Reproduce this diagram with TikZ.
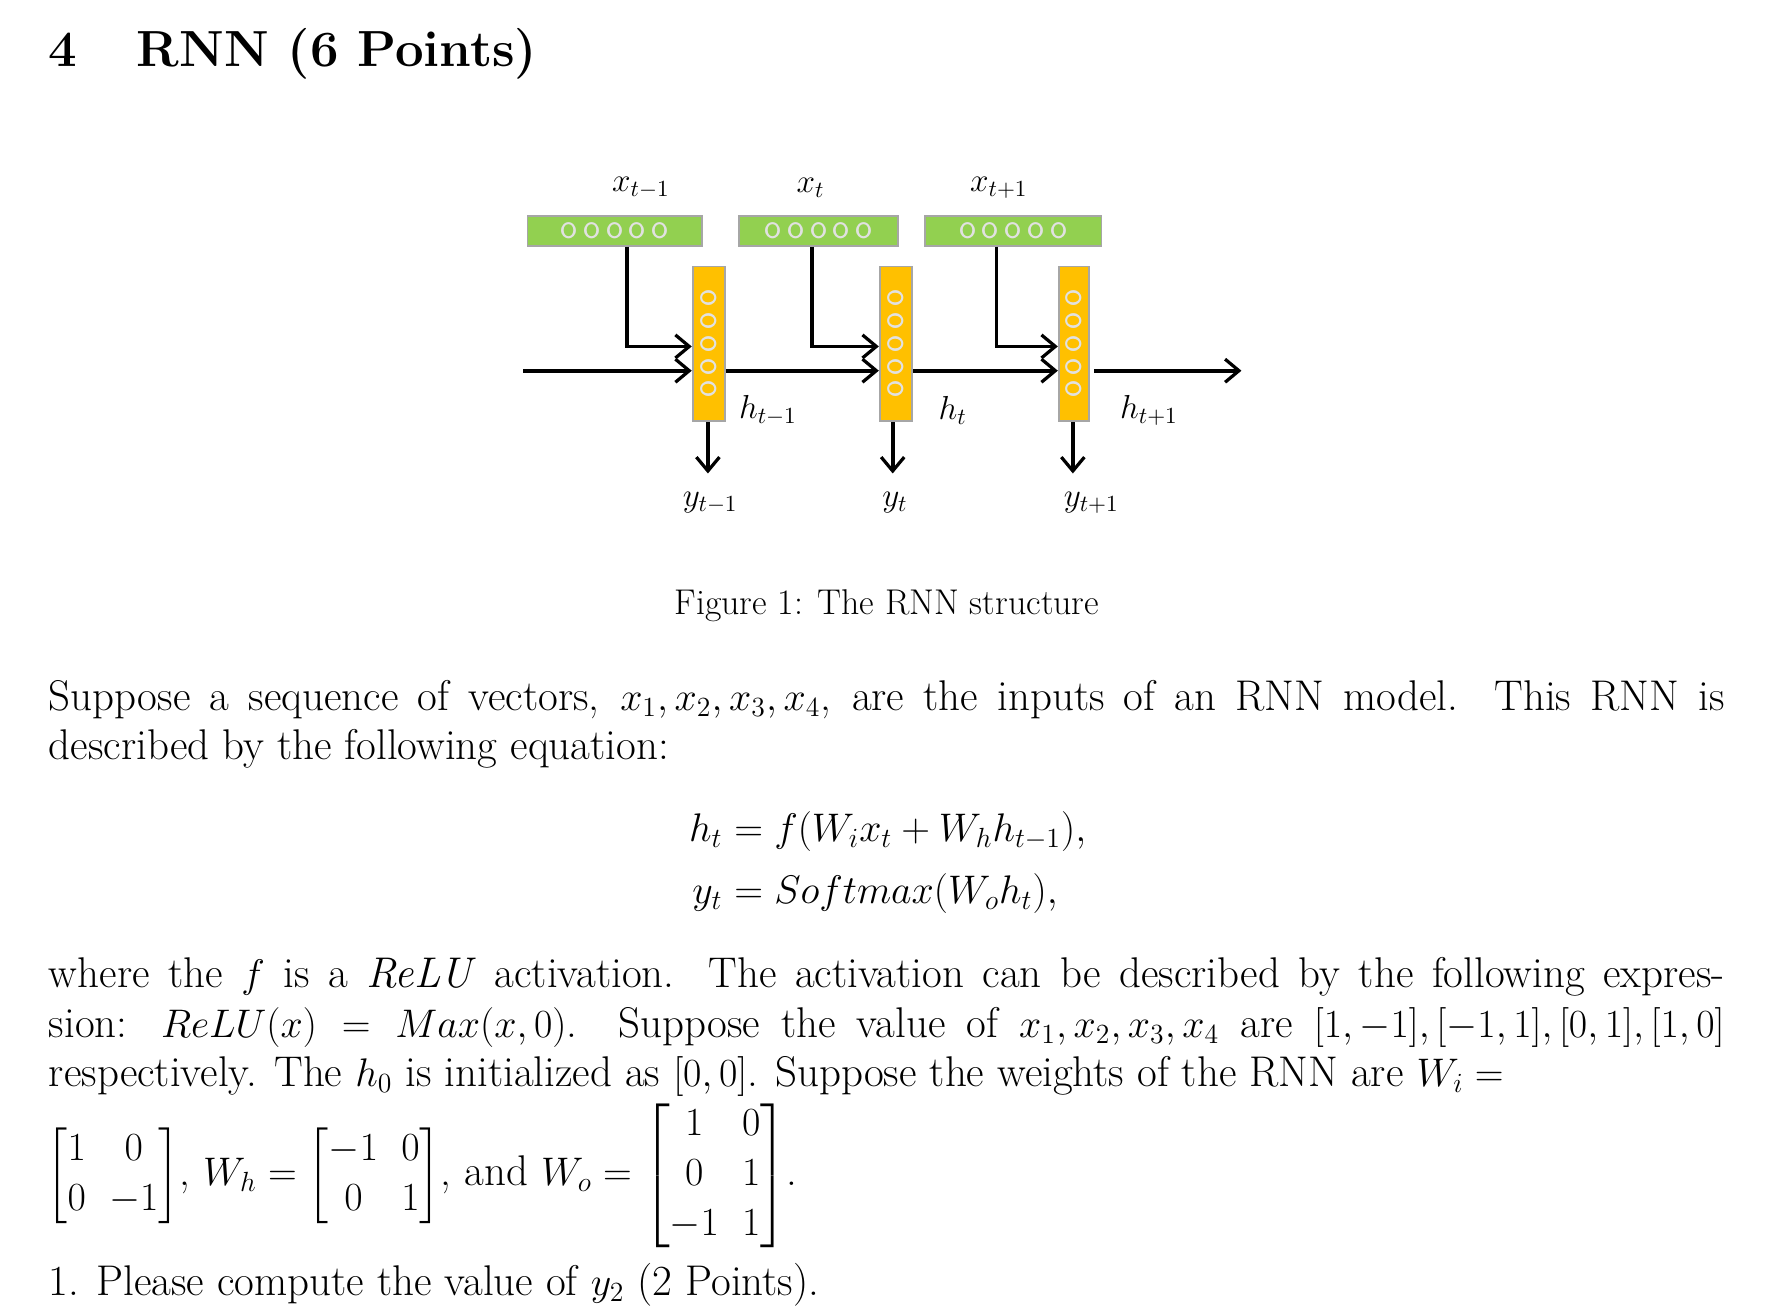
\documentclass[tikz,border=0pt]{standalone}
\usepackage{amsmath}
\usetikzlibrary{arrows.meta}
\definecolor{gbox}{RGB}{146,208,80}
\definecolor{obox}{RGB}{255,192,0}
\definecolor{ltxt}{RGB}{225,225,225}
\tikzset{
 inbox/.style={draw=gray!70,fill=gbox,line width=0.8pt,inner sep=0pt},
 hbox/.style={draw=gray!70,fill=obox,line width=0.8pt,inner sep=0pt},
 conn/.style={line width=1.6pt,-{Straight Barb[length=6pt,width=10pt,line width=1.4pt]}},
 lab/.style={font=\fontsize{14}{16}\selectfont},
 body/.style={anchor=base west,inner sep=0pt,font=\fontsize{18.6}{21.5}\selectfont}
}
\begin{document}
\begin{tikzpicture}[x=0.5pt,y=-0.5pt]
\useasboundingbox (0,0) rectangle (1550,1133);
\node[anchor=base west,inner sep=0pt,font=\fontsize{22}{24}\selectfont\bfseries] (t1) at (42,58) {4};
\node[anchor=base west,inner sep=0pt,font=\fontsize{22}{24}\selectfont\bfseries] (t2) at (118,58) {RNN (6 Points)};
% inputs
\foreach \n/\a/\b/\c in {1/456/607/543,2/639/777/703,3/800/953/863}{
 \node[inbox,minimum width={(\b-\a)*0.5pt},minimum height=13pt,anchor=north west,
   font=\fontsize{15}{15}\sffamily\selectfont\color{ltxt}] (x\n) at (\a,186) {o\,o\,o\,o\,o};
}
\foreach \n/\a/\b in {1/599/627,2/761/789,3/916/942}{
 \node[hbox,minimum width={(\b-\a)*0.5pt},minimum height=67pt,anchor=north west] (h\n) at (\a,230) {};
 \node[rotate=90,font=\fontsize{15}{15}\sffamily\selectfont\color{ltxt}] at (h\n.center) {o\,o\,o\,o\,o};
}
\coordinate (c1) at (543,300); \coordinate (c2) at (703,300); \coordinate (c3) at (863,300);
\draw[conn] (x1.south -| c1) |- (h1.west |- c1);
\draw[conn] (x2.south -| c2) |- (h2.west |- c2);
\draw[conn] (x3.south -| c3) |- (h3.west |- c3);
\coordinate (s) at (453,321); \coordinate (e) at (1075,321);
\draw[conn] (s) -- (h1.west |- s);
\draw[conn] (h1.east |- s) -- (h2.west |- s);
\draw[conn] (h2.east |- s) -- (h3.west |- s);
\draw[conn] ([xshift=2pt]h3.east |- s) -- (e);
\foreach \n/\x in {1/613,2/773,3/929}{
 \coordinate (d\n) at (\x,410);
 \draw[conn] (h\n.south -| d\n) -- (d\n);
}
\node[lab] (lx1) at (555,163) {$x_{t-1}$};
\node[lab] (lx2) at (702,163) {$x_t$};
\node[lab] (lx3) at (865,163) {$x_{t+1}$};
\node[lab] (lh1) at (665,355) {$h_{t-1}$};
\node[lab] (lh2) at (825,355) {$h_t$};
\node[lab] (lh3) at (995,355) {$h_{t+1}$};
\node[lab] (ly1) at (615,435) {$y_{t-1}$};
\node[lab] (ly2) at (775,435) {$y_t$};
\node[lab] (ly3) at (945,435) {$y_{t+1}$};
\node[anchor=base,inner sep=0pt,font=\fontsize{15.5}{16}\selectfont] (cap) at (768,532) {Figure 1: The RNN structure};
% text
\node[body,text width=725.5pt,align=justify] (p1) at (42,615) {Suppose a sequence of vectors, $x_1,x_2,x_3,x_4$, are the inputs of an RNN model. This RNN is\linebreak described by the following equation:};
\node[body,anchor=base east] (e1l) at (626,729) {$h_t$};
\node[body] (e1r) at (626,729) {${}= f(W_ix_t+W_hh_{t-1}),$};
\node[body,anchor=base east] (e2l) at (626,782) {$y_t$};
\node[body] (e2r) at (626,782) {${}= Softmax(W_oh_t),$};
\node[body,text width=725.5pt,align=justify] (p2) at (42,855) {\parfillskip=0pt where the $f$ is a \textit{ReLU} activation. The activation can be described by the following expres-\linebreak sion: $ReLU(x)=Max(x,0)$. Suppose the value of $x_1,x_2,x_3,x_4$ are $[1,-1],[-1,1],[0,1],[1,0]$\linebreak respectively. The $h_0$ is initialized as $[0,0]$. Suppose the weights of the RNN are $W_i=$};
\node[anchor=west,inner sep=0pt,font=\fontsize{18.6}{21.5}\selectfont] (m) at (40,1018) {$\begin{bmatrix}1&0\\0&-1\end{bmatrix}$, $W_h=\begin{bmatrix}-1&0\\0&1\end{bmatrix}$, and $W_o=\begin{bmatrix}1&0\\0&1\\-1&1\end{bmatrix}$.};
\node[body] (q) at (42,1122) {1. Please compute the value of $y_2$ (2 Points).};
\end{tikzpicture}
\end{document}
